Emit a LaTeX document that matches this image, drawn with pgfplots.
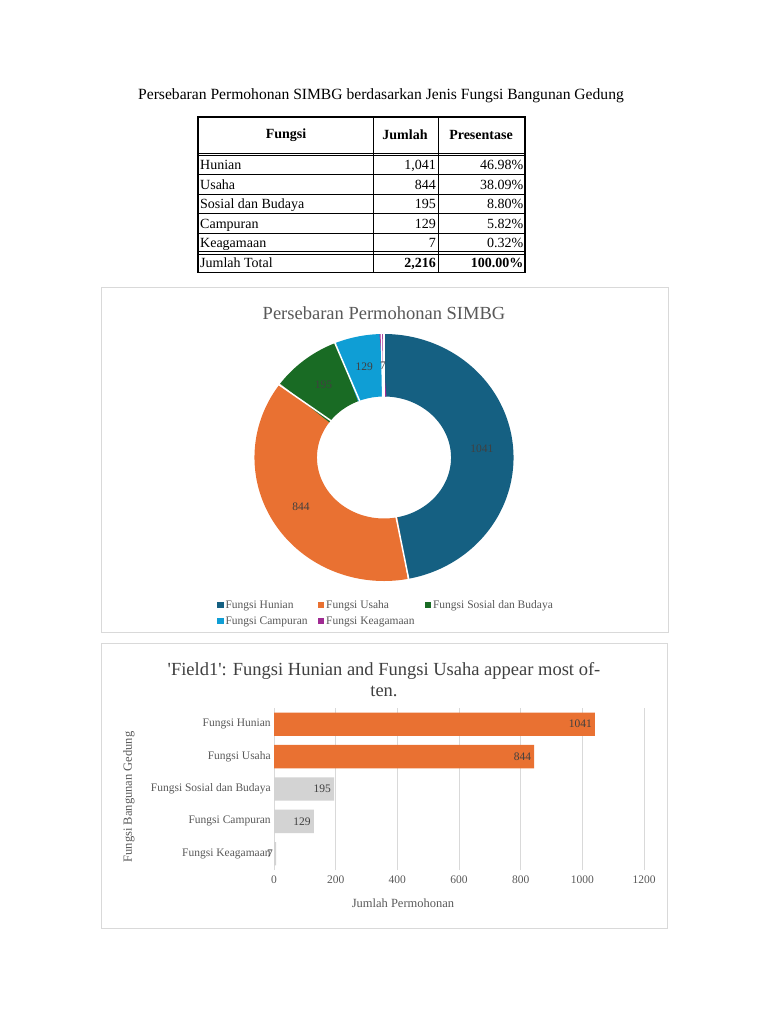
\documentclass[border=0pt]{standalone}
\usepackage{fontspec}
\setmainfont{Liberation Serif}
\newfontfamily\plainfont{Liberation Serif}
\usepackage{pgfplots}
\usepackage{pgfplotstable}
\pgfplotsset{compat=1.18}
\definecolor{hunian}{HTML}{156082}
\definecolor{usaha}{HTML}{E97132}
\definecolor{sosial}{HTML}{196B24}
\definecolor{campuran}{HTML}{0F9ED5}
\definecolor{keagamaan}{HTML}{A02B93}
\definecolor{bargray}{HTML}{D3D3D3}
\definecolor{txtgray}{HTML}{595959}
\definecolor{dgray}{HTML}{404040}
\definecolor{panel}{HTML}{D9D9D9}

\pgfplotstableread{
label value
Hunian 1041
Usaha 844
SosialBudaya 195
Campuran 129
Keagamaan 7
}\donutdata

\pgfplotstableread{
pos value
4 1041
3 844
}\barorange

\pgfplotstableread{
pos value
2 195
1 129
0 7
}\bargrey

\begin{document}
\begin{tikzpicture}
\fill[white] (0,0) rectangle (768pt,-1024pt);
\useasboundingbox (0,0) rectangle (768pt,-1024pt);

% ---------- page title ----------
\node[font=\fontsize{15.6}{18}\selectfont] at (381pt,-96pt)
  {Persebaran Permohonan SIMBG berdasarkan Jenis Fungsi Bangunan Gedung};

% ---------- table ----------
\begin{scope}[x=1pt,y=1pt]
\draw[line width=1.8pt] (198,-117) rectangle (525,-272.5);
\draw[line width=1pt] (373,-117) -- (373,-272.5);
\draw[line width=1pt] (438,-117) -- (438,-272.5);
\draw[line width=0.8pt] (198,-153) -- (525,-153);
\draw[line width=0.8pt] (198,-155.6) -- (525,-155.6);
\foreach \yy in {174.5,194,213.5,233}
  \draw[line width=0.8pt] (198,-\yy) -- (525,-\yy);
\draw[line width=0.8pt] (198,-251.5) -- (525,-251.5);
\draw[line width=0.8pt] (198,-254.1) -- (525,-254.1);
\begin{scope}[every node/.style={font=\fontsize{14}{16}\selectfont, inner sep=0pt}]
\node[font=\fontsize{14}{16}\selectfont\bfseries] at (286,-135) {Fungsi};
\node[font=\fontsize{14}{16}\selectfont\bfseries] at (405,-135) {Jumlah};
\node[font=\fontsize{14}{16}\selectfont\bfseries] at (481,-135) {Presentase};
\node[anchor=mid west] at (200,-167.3) {Hunian};
\node[anchor=mid east] at (436,-167.3) {1,041};
\node[anchor=mid east] at (523.5,-167.3) {46.98\%};
\node[anchor=mid west] at (200,-186.8) {Usaha};
\node[anchor=mid east] at (436,-186.8) {844};
\node[anchor=mid east] at (523.5,-186.8) {38.09\%};
\node[anchor=mid west] at (200,-206.3) {Sosial dan Budaya};
\node[anchor=mid east] at (436,-206.3) {195};
\node[anchor=mid east] at (523.5,-206.3) {8.80\%};
\node[anchor=mid west] at (200,-225.8) {Campuran};
\node[anchor=mid east] at (436,-225.8) {129};
\node[anchor=mid east] at (523.5,-225.8) {5.82\%};
\node[anchor=mid west] at (200,-244.8) {Keagamaan};
\node[anchor=mid east] at (436,-244.8) {7};
\node[anchor=mid east] at (523.5,-244.8) {0.32\%};
\node[anchor=mid west] at (200,-265) {Jumlah Total};
\node[anchor=mid east, font=\fontsize{14}{16}\selectfont\bfseries] at (436,-265) {2,216};
\node[anchor=mid east, font=\fontsize{14}{16}\selectfont\bfseries] at (523.5,-265) {100.00\%};
\end{scope}

% panels
\draw[panel, line width=0.8pt] (101,-287) rectangle (668,-632);
\draw[panel, line width=0.8pt] (101,-643) rectangle (667,-928);
\node[text=txtgray, font=\fontsize{18.5}{22}\selectfont] at (384,-313) {Persebaran Permohonan SIMBG};
\node[text=dgray, font=\plainfont\fontsize{18.5}{21}\selectfont, align=center] at (384,-680)
  {'Field1': Fungsi Hunian and Fungsi Usaha appear most of-\\ten.};
\node[text=txtgray, font=\fontsize{12.5}{15}\selectfont] at (403,-903) {Jumlah Permohonan};
\node[text=txtgray, font=\fontsize{12.5}{15}\selectfont, rotate=90] at (129,-797) {Fungsi Bangunan Gedung};
\end{scope}

% ---------- donut computations ----------
\pgfplotstablegetelem{0}{value}\of\donutdata\let\vA\pgfplotsretval
\pgfplotstablegetelem{1}{value}\of\donutdata\let\vB\pgfplotsretval
\pgfplotstablegetelem{2}{value}\of\donutdata\let\vC\pgfplotsretval
\pgfplotstablegetelem{3}{value}\of\donutdata\let\vD\pgfplotsretval
\pgfplotstablegetelem{4}{value}\of\donutdata\let\vE\pgfplotsretval
\pgfmathsetmacro\dtotal{\vA+\vB+\vC+\vD+\vE}
\pgfmathsetmacro\cA{90-\vA/\dtotal*360}
\pgfmathsetmacro\cB{\cA-\vB/\dtotal*360}
\pgfmathsetmacro\cC{\cB-\vC/\dtotal*360}
\pgfmathsetmacro\cD{\cC-\vD/\dtotal*360}
\pgfmathsetmacro\cE{\cD-\vE/\dtotal*360}
\pgfmathsetmacro\xA{0.756*cos((90+\cA)/2)}\pgfmathsetmacro\yA{0.75*sin((90+\cA)/2)}
\pgfmathsetmacro\xB{0.756*cos((\cA+\cB)/2)}\pgfmathsetmacro\yB{0.75*sin((\cA+\cB)/2)}
\pgfmathsetmacro\xC{0.756*cos((\cB+\cC)/2)}\pgfmathsetmacro\yC{0.75*sin((\cB+\cC)/2)}
\pgfmathsetmacro\xD{0.756*cos((\cC+\cD)/2)}\pgfmathsetmacro\yD{0.75*sin((\cC+\cD)/2)}
\pgfmathsetmacro\xE{0.756*cos((\cD+\cE)/2)}\pgfmathsetmacro\yE{0.75*sin((\cD+\cE)/2)}

\begin{axis}[
  at={(384pt,-457.5pt)}, anchor=center,
  scale only axis, width=260pt, height=246pt,
  xmin=-1, xmax=1, ymin=-1, ymax=1,
  hide axis, clip=false,
  legend columns=3,
  legend cell align=left,
  legend image code/.code={\fill[#1, draw=none, line width=0pt] (0pt,-2.6pt) rectangle (6.5pt,3.9pt);},
  legend style={at={(axis description cs:-0.143,-0.074)}, anchor=north west,
    draw=none, fill=none, inner sep=0pt, row sep=2.5pt,
    font=\fontsize{11.5}{13}\selectfont, text=txtgray,
    /tikz/every even column/.append style={column sep=8pt}},
  every axis plot/.append style={variable=\t, samples=90, line width=62.5pt},
]
\addplot[hunian, domain=\cA:90] ({0.756*cos(\t)},{0.75*sin(\t)});
\addlegendentry{Fungsi Hunian}
\addplot[usaha, domain=\cB:\cA] ({0.756*cos(\t)},{0.75*sin(\t)});
\addlegendentry{Fungsi Usaha}
\addplot[sosial, domain=\cC:\cB] ({0.756*cos(\t)},{0.75*sin(\t)});
\addlegendentry{Fungsi Sosial dan Budaya}
\addplot[campuran, domain=\cD:\cC] ({0.756*cos(\t)},{0.75*sin(\t)});
\addlegendentry{Fungsi Campuran}
\addplot[keagamaan, domain=\cE:\cD] ({0.756*cos(\t)},{0.75*sin(\t)});
\addlegendentry{Fungsi Keagamaan}
\addplot[white, line width=1.5pt, domain=0.45:1.05, samples=2, forget plot] ({\t*cos(90)},{\t*sin(90)});
\addplot[white, line width=1.5pt, domain=0.45:1.05, samples=2, forget plot] ({\t*cos(\cA)},{\t*sin(\cA)});
\addplot[white, line width=1.5pt, domain=0.45:1.05, samples=2, forget plot] ({\t*cos(\cB)},{\t*sin(\cB)});
\addplot[white, line width=1.5pt, domain=0.45:1.05, samples=2, forget plot] ({\t*cos(\cC)},{\t*sin(\cC)});
\addplot[white, line width=1.5pt, domain=0.45:1.05, samples=2, forget plot] ({\t*cos(\cD)},{\t*sin(\cD)});
\begin{scope}[every node/.style={text=dgray, font=\fontsize{11.5}{13}\selectfont, inner sep=0pt}]
\node at (axis cs:\xA,\yA) {\vA};
\node at (axis cs:\xB,\yB) {\vB};
\node at (axis cs:\xC,\yC) {\vC};
\node at (axis cs:\xD,\yD) {\vD};
\node at (axis cs:\xE,\yE) {\vE};
\end{scope}
\end{axis}

% ---------- bar chart ----------
\begin{axis}[
  at={(274pt,-870pt)}, anchor=south west,
  scale only axis, width=370pt, height=162pt,
  xbar, bar width=0.72, bar shift=0pt,
  xmin=0, xmax=1200, ymin=-0.5, ymax=4.5,
  xtick={0,200,...,1200}, ytick={0,1,2,3,4},
  yticklabels={Fungsi Keagamaan, Fungsi Campuran, Fungsi Sosial dan Budaya, Fungsi Usaha, Fungsi Hunian},
  xmajorgrids, grid style={panel, line width=0.8pt},
  axis line style={draw=none}, tick style={draw=none},
  ticklabel style={font=\fontsize{11.5}{13}\selectfont, text=txtgray},
  xticklabel style={yshift=-2.5pt},
  yticklabel style={xshift=4.5pt},
  /pgf/number format/assume math mode=true,
  /pgf/number format/1000 sep={},
  nodes near coords,
  nodes near coords style={anchor=east, xshift=-3pt, inner sep=0pt,
    font=\fontsize{11.5}{13}\selectfont, text=dgray},
  clip=false,
]
\addplot[fill=usaha, draw=none] table[x=value, y=pos] {\barorange};
\addplot[fill=bargray, draw=none] table[x=value, y=pos] {\bargrey};
\end{axis}
\end{tikzpicture}
\end{document}
